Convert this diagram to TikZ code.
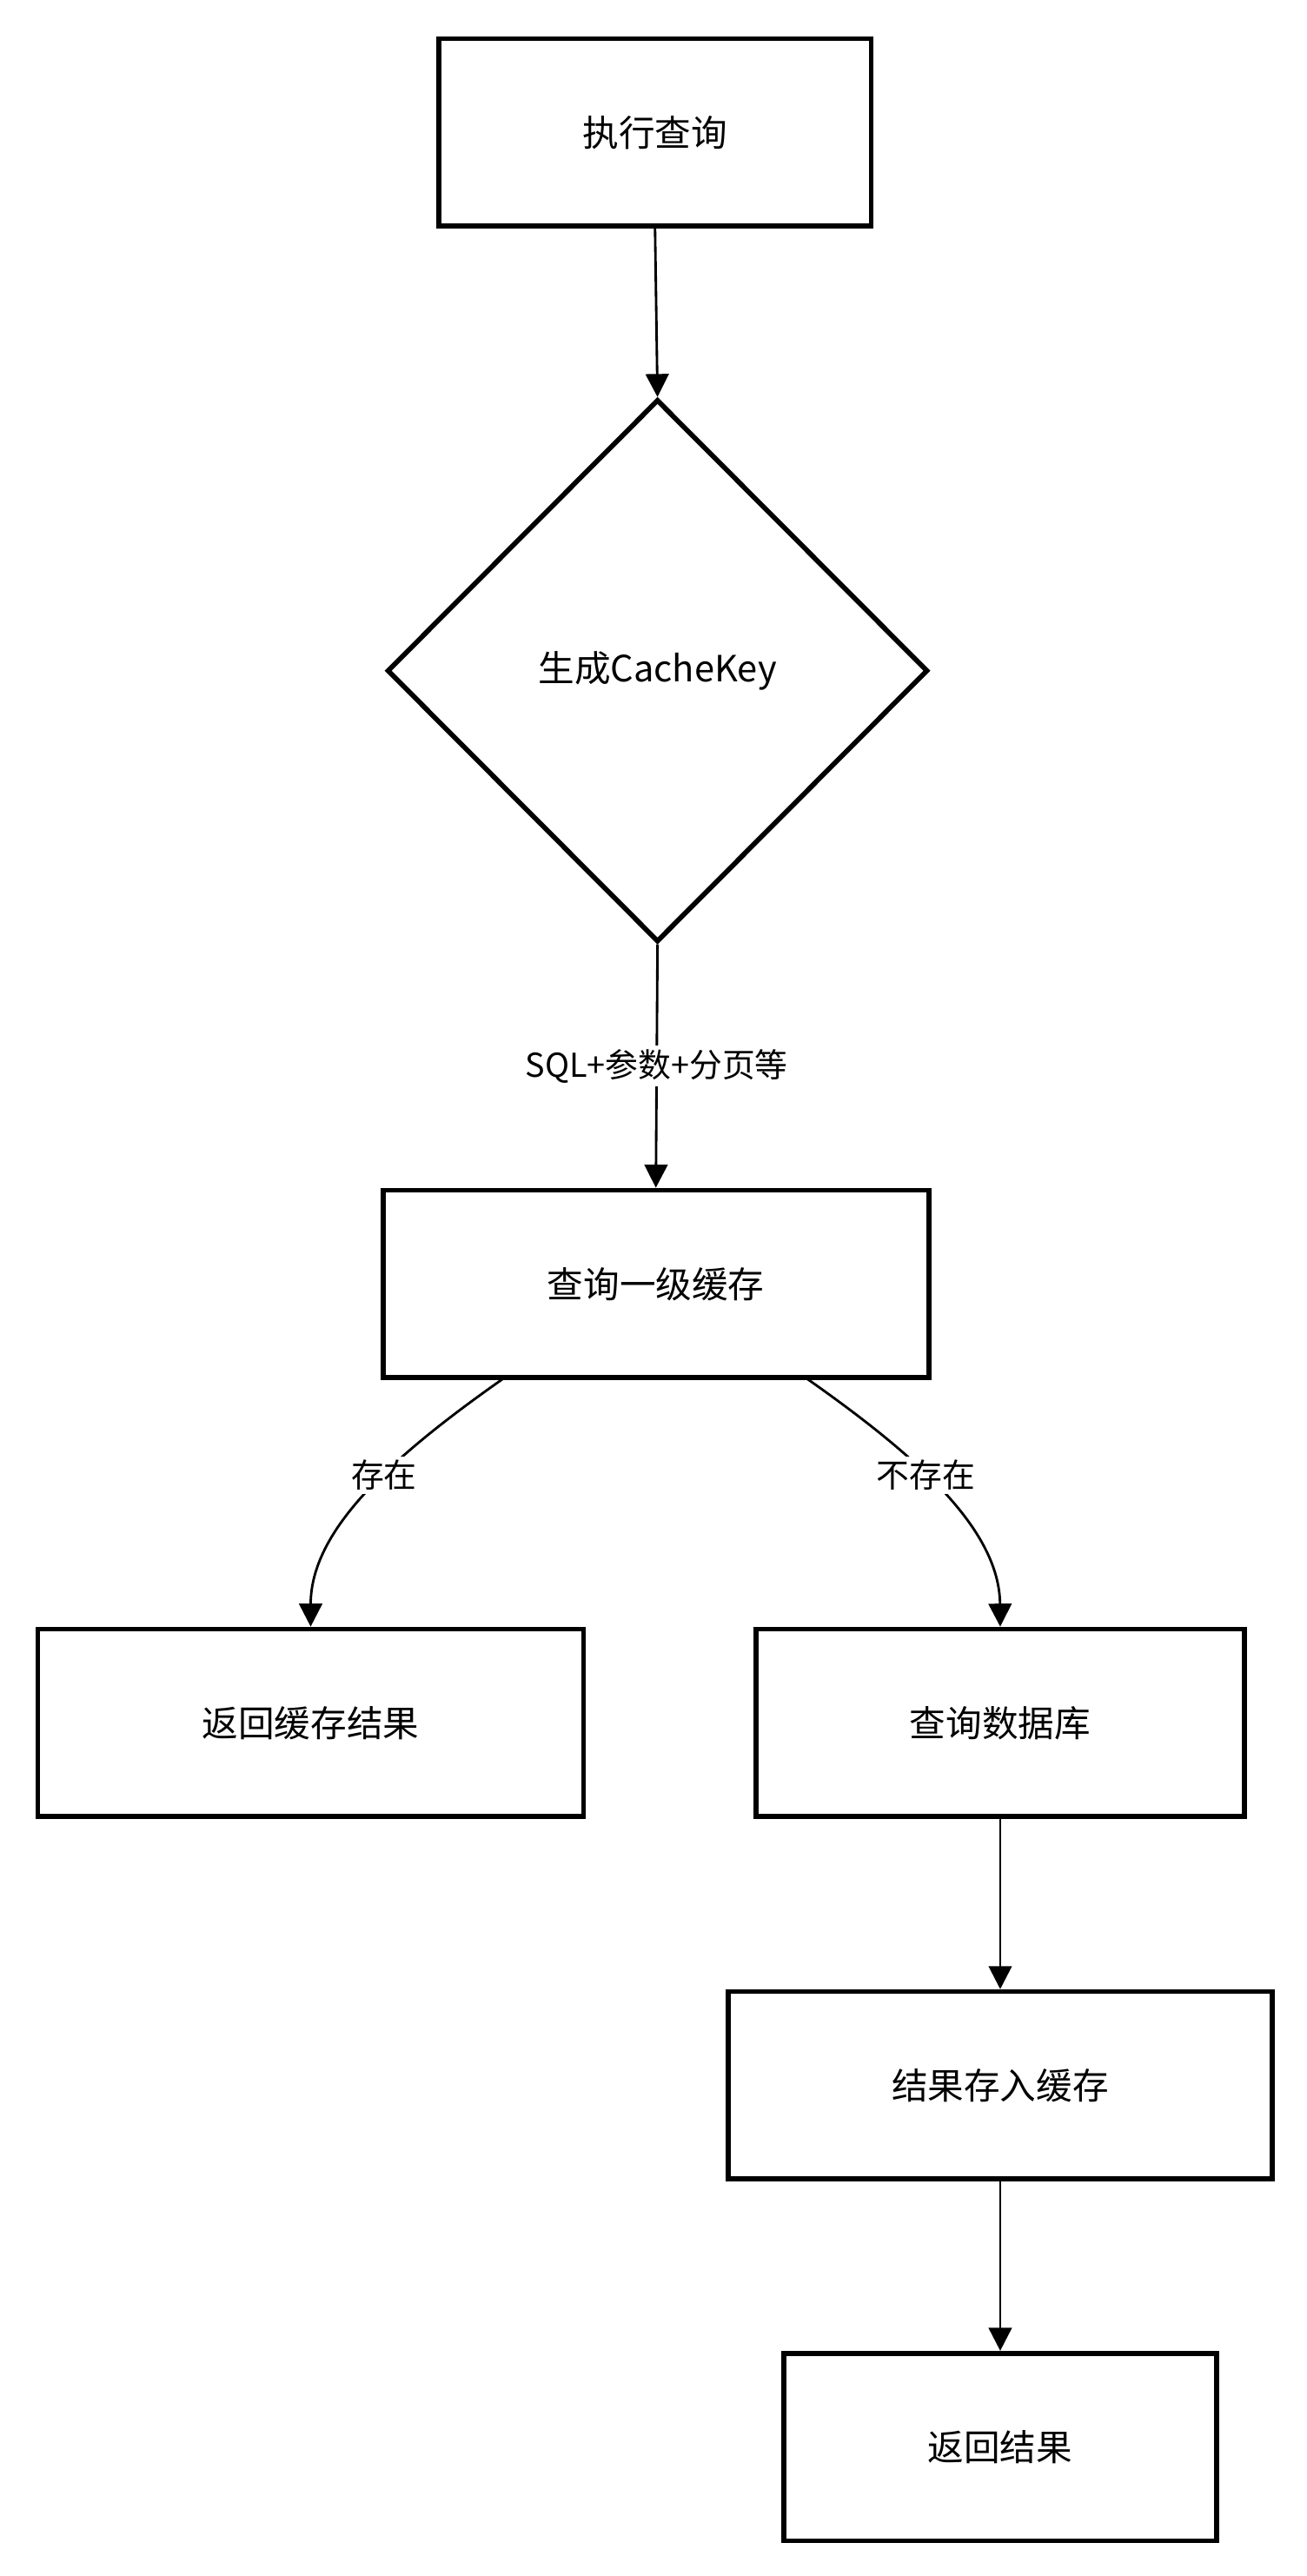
\documentclass[tikz,border=0pt]{standalone}
\usepackage{fontspec}
\setmainfont{Noto Sans CJK SC}
\usetikzlibrary{shapes.geometric,arrows.meta}
\begin{document}
\begin{tikzpicture}[x=1pt,y=-1pt,
  box/.style={draw,line width=3pt,minimum width=#1,minimum height=114pt,font=\fontsize{22}{26}\selectfont,inner sep=0},
  arr/.style={line width=1.5pt,-{Triangle[length=14pt,width=14pt]}},
  lab/.style={fill=white,font=\fontsize{20}{24}\selectfont,inner sep=2pt}]
\useasboundingbox (0,0) rectangle (795,1567);
\node[box=263pt] (a) at (398.5,80.5) {执行查询};
\node[diamond,draw,line width=3pt,minimum width=329pt,minimum height=330pt,inner sep=0,font=\fontsize{22}{26}\selectfont] (d) at (400,408) {生成CacheKey};
\node[box=332pt] (q) at (399,781) {查询一级缓存};
\node[box=332pt] (r) at (189,1048) {返回缓存结果};
\node[box=297pt] (db) at (608.5,1048) {查询数据库};
\node[box=331pt] (s) at (608.5,1268.5) {结果存入缓存};
\node[box=263pt] (f) at (608.5,1488.5) {返回结果};
\draw[arr] (a.south) -- (d.north);
\draw[arr] (d.south) -- node[lab]{SQL+参数+分页等} (q.north);
\coordinate (q1) at (307,838);
\coordinate (q2) at (490,838);
\draw[arr] (q1) .. controls (240,885) and (189,930) .. node[lab,pos=0.42]{存在} (r.north);
\draw[arr] (q2) .. controls (557,885) and (608,930) .. node[lab,pos=0.42]{不存在} (db.north);
\draw[arr] (db.south) -- (s.north);
\draw[arr] (s.south) -- (f.north);
\end{tikzpicture}
\end{document}
